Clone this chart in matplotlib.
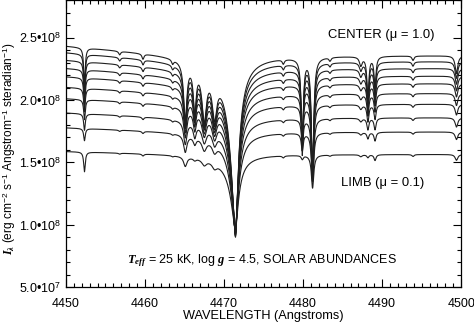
import numpy as np
import matplotlib
matplotlib.use('Agg')
import matplotlib.pyplot as plt
from matplotlib.ticker import MultipleLocator, FuncFormatter

plt.rcParams['font.family'] = ['Liberation Sans', 'DejaVu Sans']
plt.rcParams['mathtext.fontset'] = 'custom'
plt.rcParams['mathtext.rm'] = 'Liberation Sans'
plt.rcParams['mathtext.it'] = 'Liberation Serif:italic:bold'
plt.rcParams['mathtext.bf'] = 'Liberation Sans:bold'

# mu = cos(theta), disk centre to limb
mu = [1.0, 0.9, 0.8, 0.7, 0.6, 0.5, 0.4, 0.3, 0.2, 0.1]

# continuum intensity (1e8 erg/cm2/s/A/sr) at 4450 A and redward of 4467 A
cont_blue = [2.441, 2.388, 2.327, 2.261, 2.194, 2.109, 2.017, 1.902, 1.782, 1.591]
cont_red = [2.358, 2.311, 2.256, 2.195, 2.134, 2.055, 1.969, 1.860, 1.746, 1.565]

# He I 4471 core intensity and wing shape
he_center = 4471.45
he_core = [0.905, 0.91, 0.915, 0.92, 0.925, 0.93, 0.935, 0.94, 0.945, 0.95]
he_gamma_blue = 0.75
he_gamma_red = 0.5
he_power = 1.55

# metal lines: centre (A), half width (A), central depth for each mu
line_center = [4452.35, 4456.8, 4459.75, 4463.5, 4465.1, 4466.3, 4467.5,
               4468.8, 4477.5, 4479.9, 4481.2, 4483.4, 4487.3, 4488.2,
               4489.1, 4493.9, 4499.4]
line_width = [0.12, 0.15, 0.15, 0.15, 0.25, 0.22, 0.35, 0.35, 0.15,
              0.15, 0.18, 0.15, 0.2, 0.15, 0.15, 0.15, 0.2]
line_depth = [
    [0.12, 0.115, 0.11, 0.105, 0.10, 0.09, 0.08, 0.07, 0.055, 0.10],
    [0.012, 0.012, 0.011, 0.011, 0.010, 0.009, 0.008, 0.007, 0.006, 0.005],
    [0.018, 0.017, 0.016, 0.015, 0.014, 0.013, 0.012, 0.011, 0.010, 0.010],
    [0.015, 0.014, 0.013, 0.012, 0.011, 0.010, 0.009, 0.008, 0.006, 0.005],
    [0.20, 0.19, 0.18, 0.165, 0.15, 0.135, 0.12, 0.10, 0.08, 0.05],
    [0.16, 0.15, 0.14, 0.125, 0.11, 0.095, 0.08, 0.06, 0.035, 0.012],
    [0.18, 0.17, 0.16, 0.145, 0.13, 0.115, 0.095, 0.075, 0.055, 0.03],
    [0.15, 0.145, 0.135, 0.125, 0.115, 0.10, 0.085, 0.065, 0.045, 0.03],
    [0.015, 0.015, 0.014, 0.014, 0.013, 0.012, 0.012, 0.011, 0.010, 0.010],
    [0.33, 0.30, 0.27, 0.24, 0.21, 0.18, 0.15, 0.11, 0.08, 0.02],
    [0.406, 0.395, 0.38, 0.37, 0.353, 0.33, 0.30, 0.27, 0.227, 0.17],
    [0.012, 0.012, 0.011, 0.011, 0.010, 0.010, 0.009, 0.008, 0.007, 0.006],
    [0.03, 0.028, 0.026, 0.024, 0.022, 0.02, 0.018, 0.015, 0.012, 0.01],
    [0.14, 0.13, 0.12, 0.11, 0.10, 0.085, 0.07, 0.05, 0.03, 0.015],
    [0.10, 0.095, 0.09, 0.085, 0.08, 0.07, 0.06, 0.05, 0.04, 0.03],
    [0.015, 0.015, 0.014, 0.014, 0.013, 0.012, 0.012, 0.011, 0.010, 0.010],
    [0.06, 0.058, 0.056, 0.054, 0.05, 0.047, 0.044, 0.04, 0.035, 0.03],
]

wl = np.linspace(4450, 4500, 8001)


def spectrum(i):
    ramp = np.clip((4467.0 - wl) / 17.0, 0, 1)
    cont = cont_red[i] + (cont_blue[i] - cont_red[i]) * ramp
    flux = cont.copy()
    for c, w, d in zip(line_center, line_width, line_depth):
        flux *= 1 - d[i] / (1 + ((wl - c) / w) ** 2)
    dl = wl - he_center
    gam = np.where(dl < 0, he_gamma_blue, he_gamma_red)
    f = 1 / (1 + (np.abs(dl) / gam) ** he_power)
    flux *= 1 - (1 - he_core[i] / cont_red[i]) * f
    return flux * 1e8


fig = plt.figure(figsize=(4.74, 3.23), dpi=100)
ax = fig.add_axes([0.139, 0.111, 0.834, 0.888])

for i in range(len(mu)):
    ax.plot(wl, spectrum(i), color='0.12', lw=0.8)

ax.set_xlim(4450, 4500)
ax.set_ylim(5e7, 2.8e8)
ax.xaxis.set_major_locator(MultipleLocator(10))
ax.xaxis.set_minor_locator(MultipleLocator(1))
ax.yaxis.set_major_locator(MultipleLocator(5e7))
ax.yaxis.set_minor_locator(MultipleLocator(1e7))


def sci(v, pos):
    if v <= 0:
        return ''
    e = int(np.floor(np.log10(v) + 1e-9))
    return '%.1f\u2022' % (v / 10 ** e) + '10$^{%d}$' % e


ax.yaxis.set_major_formatter(FuncFormatter(sci))
ax.tick_params(which='both', direction='in', top=True, right=True, labelsize=9, width=0.8)
ax.tick_params(which='major', length=6)
ax.tick_params(which='minor', length=3)
ax.tick_params(axis='x', pad=8)
for s in ax.spines.values():
    s.set_linewidth(0.9)

ax.set_xlabel('WAVELENGTH (Angstroms)', fontsize=9.2, labelpad=0)
ax.set_ylabel(r'$I_\lambda$ (erg cm$^{-2}$ s$^{-1}$ Angstrom$^{-1}$ steradian$^{-1}$)',
              fontsize=8.6)
ax.yaxis.set_label_coords(-0.122, 0.484)

ax.text(4489.9, 2.52e8, 'CENTER (\u03bc = 1.0)', fontsize=9.4, ha='center', va='center')
ax.text(4490.0, 1.335e8, 'LIMB (\u03bc = 0.1)', fontsize=9.4, ha='center', va='center')
ax.text(4474.8, 0.712e8, r'$T_{eff}$ = 25 kK, log $g$ = 4.5, SOLAR ABUNDANCES',
        fontsize=9, ha='center', va='center')

fig.savefig('out.png', dpi=100)
